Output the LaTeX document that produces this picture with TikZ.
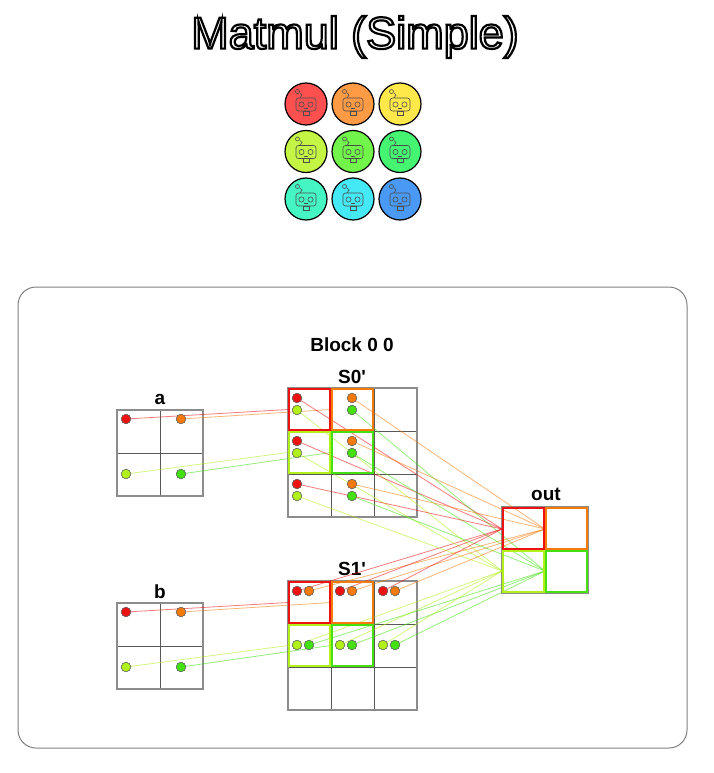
\documentclass[tikz,border=0pt]{standalone}
\usepackage{fontspec}
\setmainfont{Liberation Sans}
\begin{document}
\begin{tikzpicture}[x=1pt,y=-1pt,
  cellgrid/.style={draw=black!65,line width=1pt},
  gborder/.style={draw=black!45,line width=1.3pt},
  hl/.style={line width=2.3pt},
  dot/.style={circle,draw=black!60,line width=0.5pt,minimum size=9.5pt,inner sep=0pt},
  conn/.style={line width=0.8pt,opacity=0.55},
  lbl/.style={font=\bfseries\fontsize{19}{19}\selectfont},
  robot/.style={circle,draw=black,line width=1.2pt,minimum size=42pt,inner sep=0pt}]
\definecolor{cR}{HTML}{EE1111}\definecolor{cO}{HTML}{F57A0A}
\definecolor{cL}{HTML}{B2F01A}\definecolor{cG}{HTML}{44E010}
\useasboundingbox (0,0) rectangle (713,773);
\fill[white] (0,0) rectangle (713,773);
% title
\node[font=\fontsize{45}{45}\selectfont,text=white] (title) at (355,37)
  {\special{pdf:literal 2 Tr 2.2 w 0 0 0 RG}Matmul (Simple)\special{pdf:literal 0 Tr}};
% robots
\foreach \c [count=\i from 0] in {FF5050,FF9A45,FFE84A,C4F545,72F54A,45F572,45F5C2,45E8F5,4A9AF5}{
  \pgfmathtruncatemacro\col{mod(\i,3)}\pgfmathtruncatemacro\row{\i/3}
  \definecolor{rc}{HTML}{\c}
  \node[robot,fill=rc] (r\i) at (306+47*\col,104+47.5*\row) {};
  \begin{scope}[shift={(r\i.center)},draw=black!70,line width=0.6pt]
    \draw[rounded corners=2.5pt] (-10,-6) rectangle (10,7);
    \draw (-4.5,0.5) circle (2.6) (4.5,0.5) circle (2.6);
    \draw (-3,7) rectangle (3,11);
    \draw (-6,-6) -- (-4,-9) -- (-6,-11);
    \draw (-8.5,-12.5) circle (2);
    \draw (-2,4.5) -- (2,4.5);
  \end{scope}}
% panel
\draw[black!50,line width=1pt,rounded corners=18pt] (18,287) rectangle (687,748);
\node[lbl] (blk) at (352,345) {Block 0 0};
% grids
\foreach \nm/\x/\y/\n in {a/117/410/2,b/117/603/2,S0/288/388/3,S1/288/581/3,out/502/507/2}{
  \foreach \i in {1,...,\n}{\foreach \j in {1,...,\n}{
    \draw[cellgrid] ({\x+43*(\j-1)},{\y+43*(\i-1)}) rectangle ++(43,43);}}
  \draw[gborder] (\x,\y) rectangle ++({43*\n},{43*\n});}
\node[lbl] (la) at (160,399) {a};
\node[lbl] (lb) at (160,592) {b};
\node[lbl] (ls0) at (352,377) {S0\textquotesingle};
\node[lbl] (ls1) at (352,569) {S1\textquotesingle};
\node[lbl] (lo) at (546,494) {out};
% coordinates
\coordinate (o00) at (502,529);\coordinate (o01) at (545,529);
\coordinate (o10) at (502,571);\coordinate (o11) at (545,571);
\foreach \s/\y in {S0/388,S1/581}{
  \coordinate (\s c00) at (288,\y+21.5);\coordinate (\s c01) at (331,\y+21.5);
  \coordinate (\s c10) at (288,\y+64.5);\coordinate (\s c11) at (331,\y+64.5);}
% dots in a and b
\foreach \m/\y in {a/419,b/612}{
  \node[dot,fill=cR] (\m00) at (126,\y) {};
  \node[dot,fill=cO] (\m01) at (181,\y) {};
  \node[dot,fill=cL] (\m10) at (126,\y+55) {};
  \node[dot,fill=cG] (\m11) at (181,\y+55) {};}
\foreach \r in {0,1,2}{
  \node[dot,fill=cR] (s0r\r) at (297,398+43*\r) {};
  \node[dot,fill=cL] (s0l\r) at (297,410+43*\r) {};
  \node[dot,fill=cO] (s0o\r) at (352,398+43*\r) {};
  \node[dot,fill=cG] (s0g\r) at (352,410+43*\r) {};}
\foreach \c in {0,1,2}{
  \node[dot,fill=cR] (s1r\c) at (297+43*\c,591) {};
  \node[dot,fill=cO] (s1o\c) at (309+43*\c,591) {};
  \node[dot,fill=cL] (s1l\c) at (297+43*\c,645) {};
  \node[dot,fill=cG] (s1g\c) at (309+43*\c,645) {};}
% connectors
\foreach \m/\s in {a/S0,b/S1}{
  \draw[conn,cR] (\m00.center) -- (\s c00);
  \draw[conn,cO] (\m01.center) -- (\s c01);
  \draw[conn,cL] (\m10.center) -- (\s c10);
  \draw[conn,cG] (\m11.center) -- (\s c11);}
\foreach \k in {0,1,2}{
  \draw[conn,cR] (s0r\k.center) -- (o00); \draw[conn,cO] (s0o\k.center) -- (o01);
  \draw[conn,cL] (s0l\k.center) -- (o10); \draw[conn,cG] (s0g\k.center) -- (o11);
  \draw[conn,cR] (s1r\k.center) -- (o00); \draw[conn,cO] (s1o\k.center) -- (o01);
  \draw[conn,cL] (s1l\k.center) -- (o10); \draw[conn,cG] (s1g\k.center) -- (o11);}
% highlights
\foreach \y in {388,581}{
  \draw[hl,cR] (289,\y+1) rectangle (330,\y+42);
  \draw[hl,cO] (332,\y+1) rectangle (373,\y+42);
  \draw[hl,cL] (289,\y+44) rectangle (330,\y+85);
  \draw[hl,cG] (332,\y+44) rectangle (373,\y+85);}
\draw[hl,cR] (503,508) rectangle (544,549);
\draw[hl,cO] (546,508) rectangle (587,549);
\draw[hl,cL] (503,551) rectangle (544,592);
\draw[hl,cG] (546,551) rectangle (587,592);
% dots on top
\foreach \m/\y in {a/419,b/612}{
  \node[dot,fill=cR] at (126,\y) {};\node[dot,fill=cO] at (181,\y) {};
  \node[dot,fill=cL] at (126,\y+55) {};\node[dot,fill=cG] at (181,\y+55) {};}
\foreach \r in {0,1,2}{
  \node[dot,fill=cR] at (297,398+43*\r) {};\node[dot,fill=cL] at (297,410+43*\r) {};
  \node[dot,fill=cO] at (352,398+43*\r) {};\node[dot,fill=cG] at (352,410+43*\r) {};}
\foreach \c in {0,1,2}{
  \node[dot,fill=cR] at (297+43*\c,591) {};\node[dot,fill=cO] at (309+43*\c,591) {};
  \node[dot,fill=cL] at (297+43*\c,645) {};\node[dot,fill=cG] at (309+43*\c,645) {};}
\end{tikzpicture}
\end{document}
